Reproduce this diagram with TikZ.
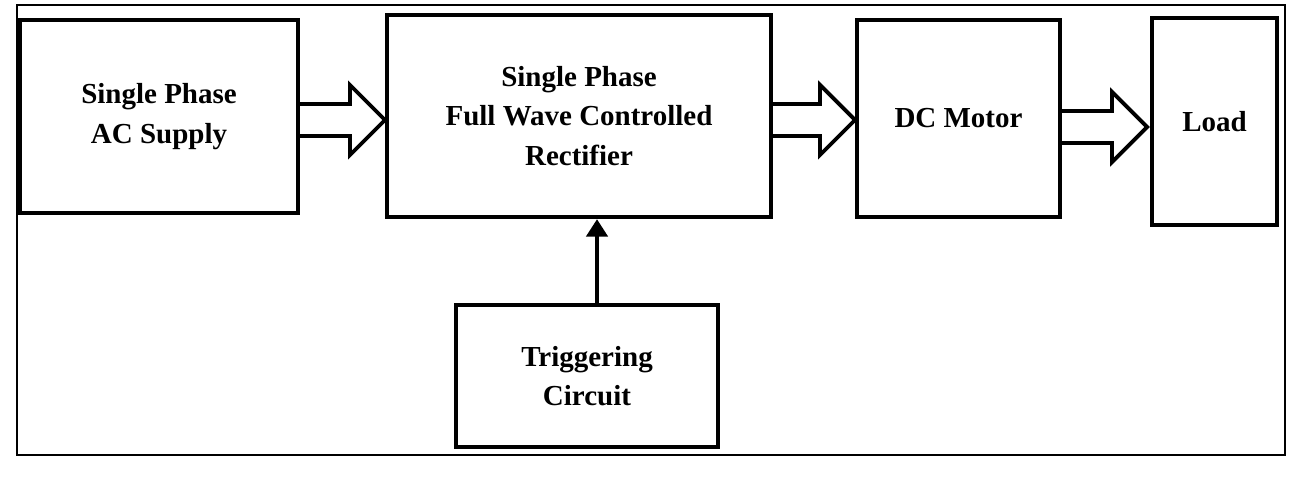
\documentclass[tikz,border=0pt]{standalone}
\usepackage{fontspec}
\setmainfont{Liberation Serif}
\usetikzlibrary{arrows.meta}
\begin{document}
\begin{tikzpicture}[x=0.02cm,y=-0.02cm,
  box/.style={draw,line width=2.4pt,inner sep=0pt,align=center,font=\fontsize{16.5}{22.5}\selectfont\bfseries},
  harrow/.style={draw,line width=2.2pt,fill=white,line join=miter}]
\useasboundingbox (0,0) rectangle (1310,489);
\draw[line width=1.2pt] (17,5) rectangle (1285,455);
\node[box,minimum height=193*0.02cm,minimum width=278*0.02cm] (ac) at (159,116.5) {Single Phase\\AC Supply};
\node[box,minimum width=384*0.02cm,minimum height=202*0.02cm] (rec) at (579,116) {Single Phase\\Full Wave Controlled\\Rectifier};
\node[box,minimum width=203*0.02cm,minimum height=197*0.02cm] (dc) at (958.5,118.5) {DC Motor};
\node[box,minimum width=125*0.02cm,minimum height=207*0.02cm] (load) at (1214.5,121.5) {Load};
\node[box,minimum width=262*0.02cm,minimum height=142*0.02cm] (trig) at (587,376) {Triggering\\Circuit};
\foreach \a/\b/\c in {300/350/120, 773/820/120, 1062/1112/127}{
  \pgfmathsetmacro\tip{\b+35}
  \draw[harrow] (\a,\c-16) -- (\b,\c-16) -- (\b,\c-35) -- (\tip,\c) -- (\b,\c+35) -- (\b,\c+16) -- (\a,\c+16);
}
\draw[line width=2.6pt,-{Triangle[length=10pt,width=12pt]}] (trig.north -| rec.south) ++(18,0) coordinate (t0) -- (t0 |- rec.south);
\end{tikzpicture}
\end{document}
